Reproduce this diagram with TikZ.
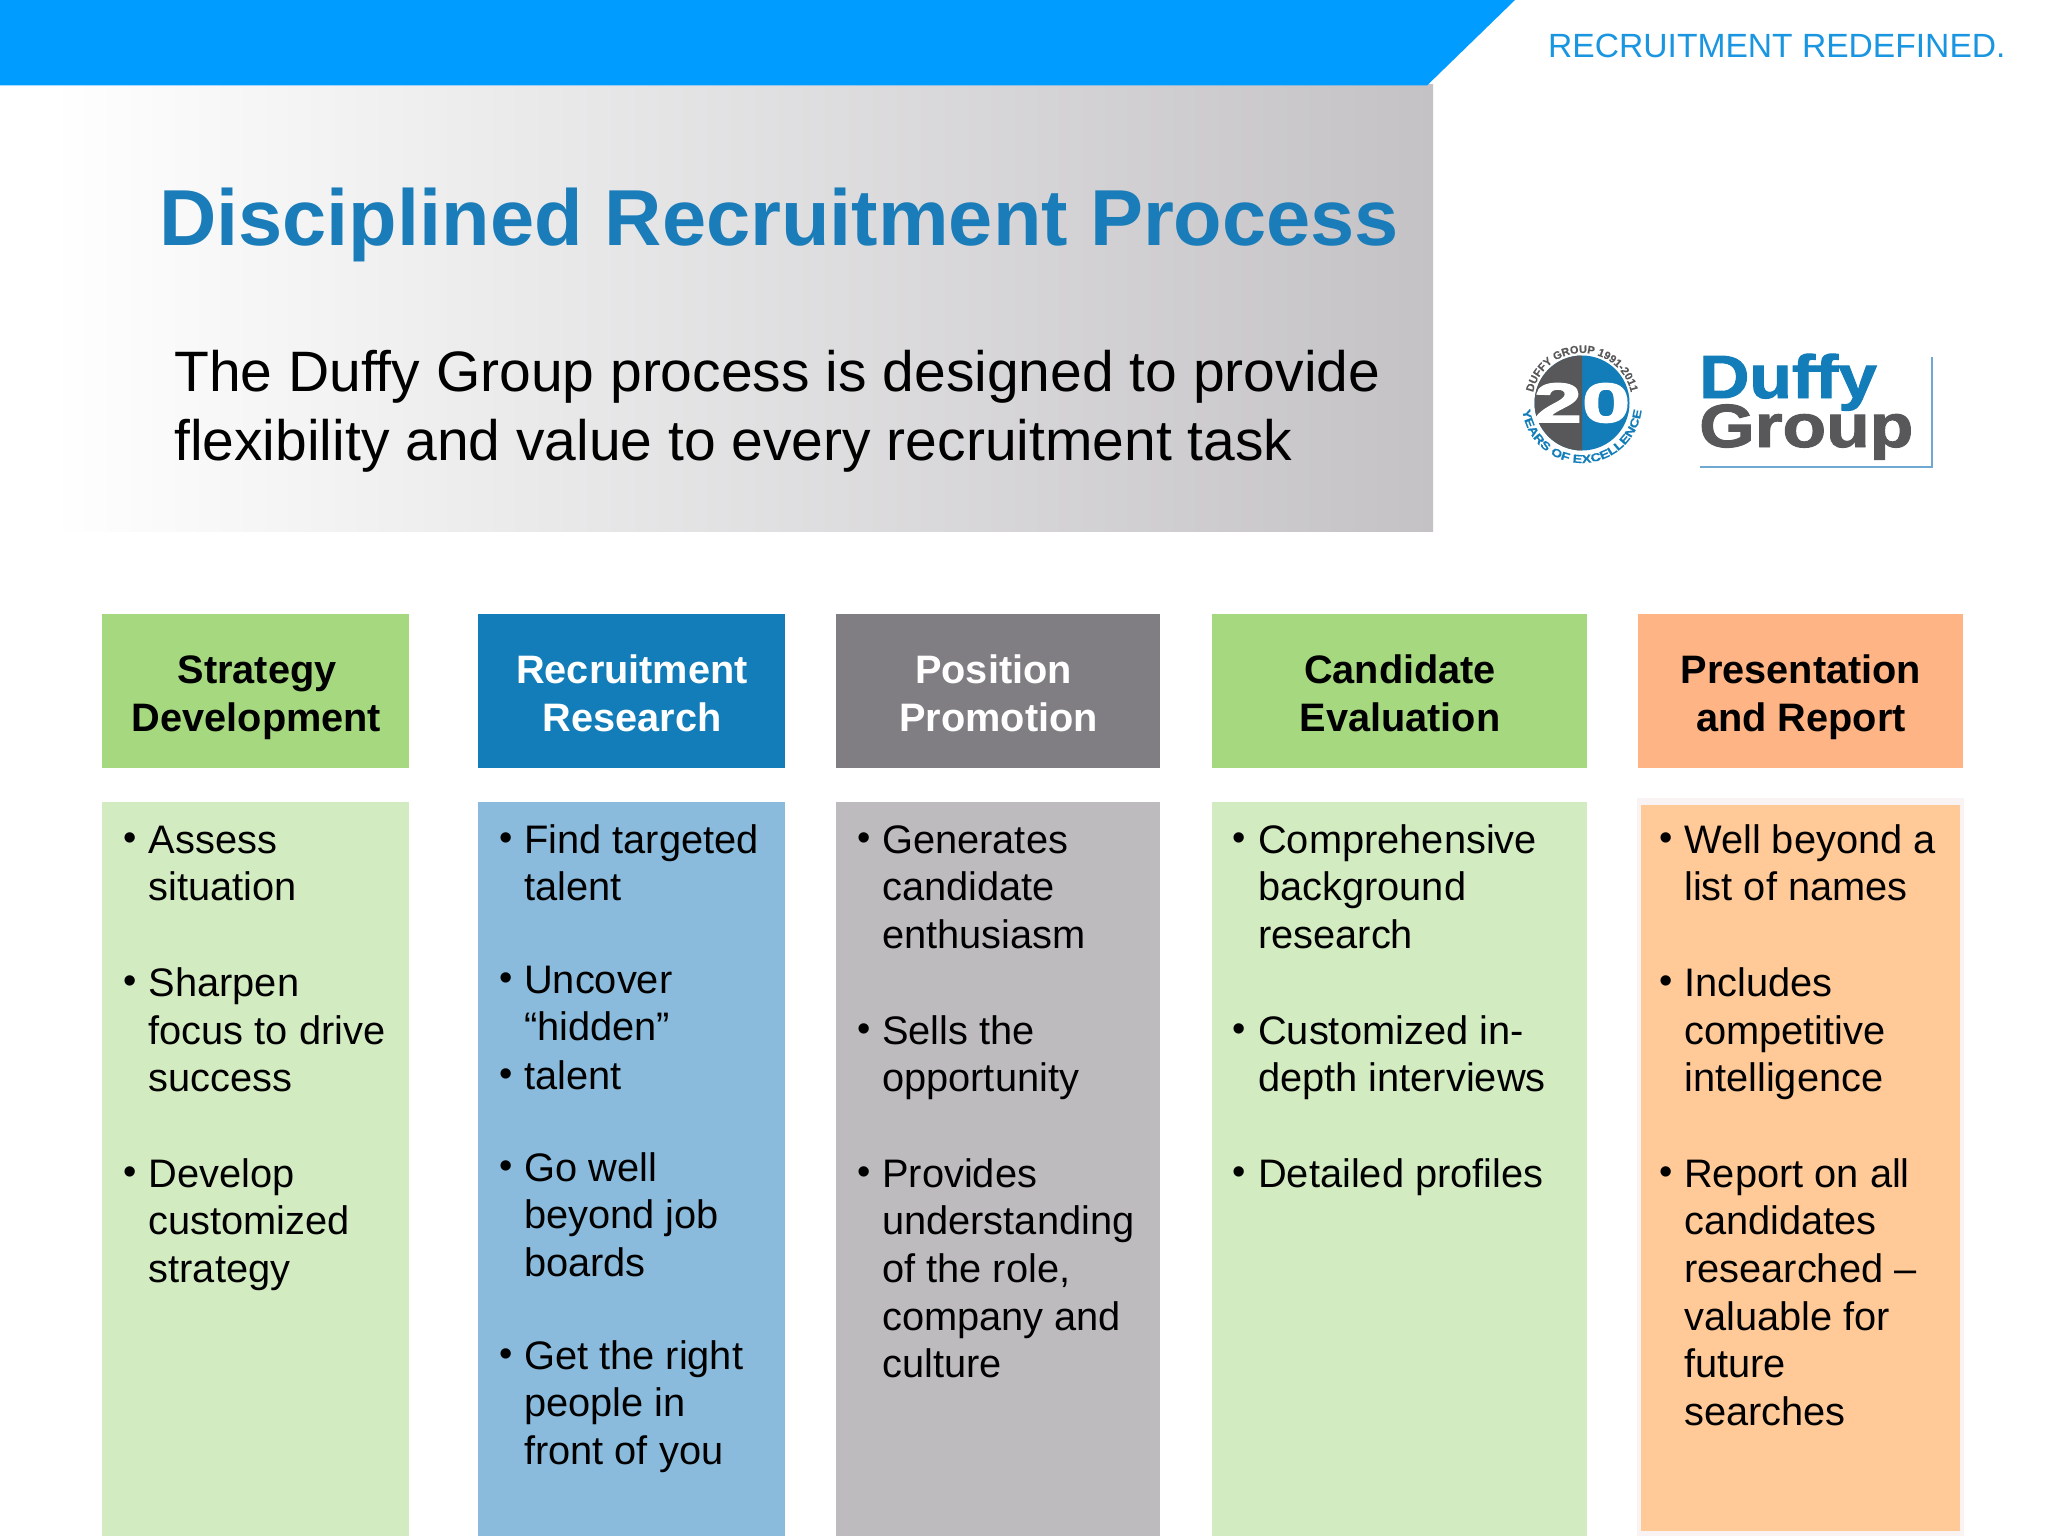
\documentclass[tikz,border=0pt]{standalone}
\usepackage{fontspec}
\usetikzlibrary{decorations.text}
\setmainfont[Ligatures=NoCommon]{Liberation Sans}
\newfontfamily\logofont[FakeBold=1.6,Ligatures=NoCommon]{Liberation Sans Bold}
\newfontfamily\sealfont[FakeBold=0.5,Ligatures=NoCommon]{Liberation Sans Bold}
\newfontfamily\sealwidefont[FakeStretch=1.25,FakeBold=0.5]{Liberation Sans Bold}
\newfontfamily\twentyfont[FakeBold=2]{Liberation Sans Bold}
\definecolor{banner}{HTML}{009CFF}
\definecolor{tagline}{HTML}{1A96E0}
\definecolor{titleblue}{HTML}{1A7DB9}
\definecolor{panelgray}{HTML}{C4C2C5}
\definecolor{greenhead}{HTML}{A6D97F}
\definecolor{greenbody}{HTML}{D3EBC1}
\definecolor{bluehead}{HTML}{127DB8}
\definecolor{bluebody}{HTML}{8ABBDC}
\definecolor{grayhead}{HTML}{807E83}
\definecolor{graybody}{HTML}{BDBBBE}
\definecolor{orangehead}{HTML}{FFB485}
\definecolor{orangebody}{HTML}{FFCA97}
\definecolor{halo}{HTML}{F9F3F3}
\definecolor{logogray}{HTML}{58585A}
\definecolor{logoline}{HTML}{6FA8D0}
\tikzset{
  headtext/.style={anchor=base,align=center,inner sep=0pt,font=\fontsize{39.7}{47.7}\selectfont\bfseries},
  itemtext/.style={anchor=base west,align=left,inner sep=0pt,font=\fontsize{39.8}{47.7}\selectfont},
  bulletmark/.style={anchor=base,inner sep=0pt,xshift=1pt,yshift=3pt,font=\fontsize{38}{47.7}\selectfont},
}
\begin{document}
\begin{tikzpicture}[x=1pt,y=-1pt]
\useasboundingbox (0,0) rectangle (2048,1536);
% panel and banner
\shade[left color=white,right color=panelgray] (50,85) rectangle (1433,531);
\fill[banner] (0,0) -- (1515,0) -- (1427,85.5) -- (0,85.5) -- cycle;
\node[anchor=base west,inner sep=0pt,text=tagline,font=\fontsize{33.6}{40}\selectfont] (tagline) at (1548,58) {RECRUITMENT REDEFINED.};
\node[anchor=base west,inner sep=0pt,text=titleblue,font=\fontsize{79.4}{100}\selectfont\bfseries] (title) at (159,245.5) {Disciplined Recruitment Process};
\node[anchor=base west,inner sep=0pt,font=\fontsize{57}{69}\selectfont] (sub1) at (174,391) {The Duffy Group process is designed to provide};
\node[anchor=base west,inner sep=0pt,font=\fontsize{57}{69}\selectfont] (sub2) at (174,460) {flexibility and value to every recruitment task};
% seal
\coordinate (seal) at (1582,403);
\fill[bluehead] (seal) circle[radius=47.5];
\fill[logogray] ([yshift=47.5pt]seal) arc[start angle=-90,end angle=-270,radius=47.5] -- cycle;
\node[transform shape,xscale=1.55,text=white,inner sep=0pt,font=\fontsize{56}{56}\twentyfont] (twenty) at (1582,403) {20};
\path[decorate,decoration={text along path,text align=center,text color=logogray,text={|\fontsize{11}{12}\sealfont|DUFFY GROUP 1991-2011}}]
  ([shift={(-172:50)}]seal) arc[start angle=-172,end angle=-8,radius=50];
\path[decorate,decoration={text along path,text align=center,text color=bluehead,text={|\fontsize{11.5}{12}\sealwidefont|YEARS OF EXCELLENCE}}]
  ([shift={(190:60)}]seal) arc[start angle=190,end angle=-10,radius=60];
% wordmark
\node[anchor=base west,inner sep=0pt,transform shape,xscale=1.14,text=bluehead,font=\fontsize{61}{61}\logofont] (duffy) at (1699,398) {Duffy};
\node[anchor=base west,inner sep=0pt,transform shape,xscale=1.17,text=logogray,font=\fontsize{61}{61}\logofont] (group) at (1699,447) {Group};
\draw[logoline,line width=1.6pt] (1932,357) -- (1932,467) -- (1700,467);
% column boxes
\fill[greenhead] (102,614) rectangle (409,768);
\fill[greenbody] (102,802) rectangle (409,1536);
\fill[bluehead] (478,614) rectangle (785,768);
\fill[bluebody] (478,802) rectangle (785,1536);
\fill[grayhead] (836,614) rectangle (1160,768);
\fill[graybody] (836,802) rectangle (1160,1536);
\fill[greenhead] (1212,614) rectangle (1587,768);
\fill[greenbody] (1212,802) rectangle (1587,1536);
\fill[orangehead] (1638,614) rectangle (1963,768);
\fill[halo] (1637,798) rectangle (1964,1536);
\fill[orangebody] (1641,805) rectangle (1960,1531);
% heads
\node[headtext] (h1a) at (257,683) {Strategy};
\node[headtext] (h1b) at (256.5,731) {Development};
\node[headtext,text=white] (h2a) at (632,683) {Recruitment};
\node[headtext,text=white] (h2b) at (632,731) {Research};
\node[headtext,text=white] (h3a) at (993.5,683) {Position};
\node[headtext,text=white] (h3b) at (998.5,731) {Promotion};
\node[headtext] (h4a) at (1400,683) {Candidate};
\node[headtext] (h4b) at (1400,731) {Evaluation};
\node[headtext] (h5a) at (1801,683) {Presentation};
\node[headtext] (h5b) at (1801,731) {and Report};
% column 1 (node position = baseline of the last line)
\node[bulletmark] (b11) at (129,853) {•};
\node[itemtext] (t11) at (148.5,900.7) {Assess\\situation};
\node[bulletmark] (b12) at (129,996.5) {•};
\node[itemtext] (t12) at (148.5,1091.9) {Sharpen\\focus to drive\\success};
\node[bulletmark] (b13) at (129,1187) {•};
\node[itemtext] (t13) at (148.5,1282.4) {Develop\\customized\\strategy};
% column 2
\node[bulletmark] (b21) at (505,853) {•};
\node[itemtext] (t21) at (524,900.7) {Find targeted\\talent};
\node[bulletmark] (b22) at (505,993) {•};
\node[itemtext] (t22) at (524,1040.7) {Uncover\\“hidden”};
\node[bulletmark] (b23) at (505,1089) {•};
\node[itemtext] (t23) at (524,1089) {talent};
\node[bulletmark] (b24) at (505,1181) {•};
\node[itemtext] (t24) at (524,1276.4) {Go well\\beyond job\\boards};
\node[bulletmark] (b25) at (505,1369) {•};
\node[itemtext] (t25) at (524,1464.4) {Get the right\\people in\\front of you};
% column 3
\node[bulletmark] (b31) at (863,853) {•};
\node[itemtext] (t31) at (882,948.4) {Generates\\candidate\\enthusiasm};
\node[bulletmark] (b32) at (863,1044) {•};
\node[itemtext] (t32) at (882,1091.7) {Sells the\\opportunity};
\node[bulletmark] (b33) at (863,1187) {•};
\node[itemtext] (t33) at (882,1377.8) {Provides\\understanding\\of the role,\\company and\\culture};
% column 4
\node[bulletmark] (b41) at (1238,853) {•};
\node[itemtext] (t41) at (1258,948.4) {Comprehensive\\background\\research};
\node[bulletmark] (b42) at (1238,1044) {•};
\node[itemtext] (t42) at (1258,1091.7) {Customized in-\\depth interviews};
\node[bulletmark] (b43) at (1238,1187) {•};
\node[itemtext] (t43) at (1258,1187) {Detailed profiles};
% column 5
\node[bulletmark] (b51) at (1665,853) {•};
\node[itemtext] (t51) at (1684,900.7) {Well beyond a\\list of names};
\node[bulletmark] (b52) at (1665,996.5) {•};
\node[itemtext] (t52) at (1684,1091.9) {Includes\\competitive\\intelligence};
\node[bulletmark] (b53) at (1665,1187) {•};
\node[itemtext] (t53) at (1684,1425.5) {Report on all\\candidates\\researched –\\valuable for\\future\\searches};
\end{tikzpicture}
\end{document}
